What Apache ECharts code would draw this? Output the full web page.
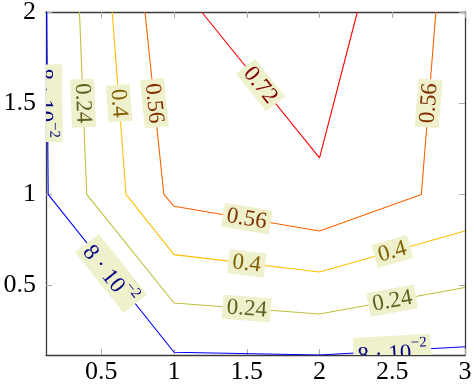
<!DOCTYPE html>
<html>
<head>
<meta charset="utf-8">
<script src="https://cdn.jsdelivr.net/npm/echarts@6/dist/echarts.min.js"></script>
<style>
  html, body { margin: 0; padding: 0; background: #fff; }
  #chart { width: 474px; height: 387px; }
</style>
</head>
<body>
<div id="chart"></div>
<script>
// contour levels and their iso-lines (data units)
const levels = [0.08, 0.24, 0.4, 0.56, 0.72];
const levelText = ['{b|8 · 10}{sup|−2}', '0.24', '0.4', '0.56', '0.72'];

const line008 = [[0.125, 2], [0.135, 1], [1, 0.135], [2, 0.12], [3, 0.165]];
const line024 = [[0.35, 2], [0.4, 1], [1, 0.405], [2, 0.345], [3, 0.49]];
const line040 = [[0.575, 2], [0.67, 1], [1, 0.67], [2, 0.575], [3, 0.8]];
const line056 = [[0.8, 2], [0.93, 1], [1, 0.935], [2, 0.8], [2.7, 1], [2.8, 2]];
const line072 = [[1.19, 2], [2, 1.2], [2.26, 2]];
const contourLines = [line008, line024, line040, line056, line072];

// which segment of each line carries a label
const labelSegments = [[0, 1, 3], [0, 2, 3], [0, 2, 3], [0, 2, 4], [0]];

const xMin = 0.12, xMax = 3, yMin = 0.12, yMax = 2;
const tickValues = [0.5, 1, 1.5, 2, 2.5, 3];
const yTickValues = [0.5, 1, 1.5, 2];

// pgfplots "hot" colormap samples, and the darker text colours
const lineColors = ['#0000ff', '#bfbf40', '#ffbf00', '#ff6000', '#ff0000'];
const textColors = ['#000080', '#606020', '#806000', '#803000', '#800000'];

const FONT = 'Liberation Serif';

const labelData = [];
labelSegments.forEach((segs, li) => {
  segs.forEach((s) => {
    const a = contourLines[li][s];
    const b = contourLines[li][s + 1];
    labelData.push([(a[0] + b[0]) / 2, (a[1] + b[1]) / 2, li, s]);
  });
});

const chart = echarts.init(document.getElementById('chart'));

const axisCommon = {
  type: 'value',
  axisLine: { show: true, onZero: false, lineStyle: { color: '#3a3a3a', width: 1.3 } },
  axisTick: { show: true, inside: true, length: 6, lineStyle: { color: '#aaa' } },
  axisLabel: { show: false },
  splitLine: { show: false },
};

const xAxisAt = (pos) => ({
  ...axisCommon,
  position: pos,
  min: xMin,
  max: xMax,
  axisTick: { ...axisCommon.axisTick, customValues: tickValues },
});
const yAxisAt = (pos) => ({
  ...axisCommon,
  position: pos,
  min: yMin,
  max: yMax,
  axisTick: { ...axisCommon.axisTick, customValues: yTickValues },
});

// tick labels drawn as text through the axes' scales (axisLabel kept falling back to sans)
const tickText = (text, x, y, align, vAlign) => ({
  type: 'text',
  x: x,
  y: y,
  style: {
    text: text,
    font: '26px "' + FONT + '"',
    fill: '#000',
    align: align,
    verticalAlign: vAlign,
  },
});

const option = {
  animation: false,
  textStyle: { fontFamily: FONT },
  grid: { left: 46, right: 9, top: 12, bottom: 32 },
  xAxis: [xAxisAt('bottom'), xAxisAt('top')],
  yAxis: [yAxisAt('left'), yAxisAt('right')],
  series: [
    ...contourLines.map((pts, i) => ({
      name: String(levels[i]),
      type: 'line',
      data: pts,
      showSymbol: false,
      silent: true,
      clip: true,
      lineStyle: { color: lineColors[i], width: 1.1 },
      z: 2,
    })),
    {
      type: 'custom',
      data: labelData,
      clip: true,
      silent: true,
      z: 5,
      encode: { x: 0, y: 1 },
      renderItem: (params, api) => {
        const li = api.value(2);
        const s = api.value(3);
        const pts = contourLines[li];
        const p = api.coord([api.value(0), api.value(1)]);
        const a = api.coord(pts[s]);
        const b = api.coord(pts[s + 1]);
        // keep the label along its segment, but upright
        let ang = Math.atan2(-(b[1] - a[1]), b[0] - a[0]);
        if (ang > Math.PI / 2) ang -= Math.PI;
        if (ang < -Math.PI / 2) ang += Math.PI;
        return {
          type: 'text',
          x: p[0],
          y: p[1],
          rotation: ang,
          style: {
            text: levelText[li],
            fill: textColors[li],
            font: '23px "' + FONT + '"',
            align: 'center',
            verticalAlign: 'middle',
            backgroundColor: '#eff0cc',
            padding: [1, 4, 0, 4],
            rich: {
              b: { fontSize: 23, fontFamily: FONT, fill: textColors[li], lineHeight: 26, verticalAlign: 'bottom' },
              sup: { fontSize: 15, fontFamily: FONT, fill: textColors[li], lineHeight: 29, verticalAlign: 'top' },
            },
          },
        };
      },
    },
    {
      type: 'custom',
      data: tickValues.map((v) => [v, yMin]),
      clip: false,
      silent: true,
      z: 6,
      encode: { x: 0, y: 1 },
      renderItem: (params, api) => {
        const p = api.coord([api.value(0), api.value(1)]);
        return tickText(String(api.value(0)), p[0], p[1] + 4, 'center', 'top');
      },
    },
    {
      type: 'custom',
      data: yTickValues.map((v) => [xMin, v]),
      clip: false,
      silent: true,
      z: 6,
      encode: { x: 0, y: 1 },
      renderItem: (params, api) => {
        const p = api.coord([api.value(0), api.value(1)]);
        return tickText(String(api.value(1)), p[0] - 10, p[1], 'right', 'middle');
      },
    },
  ],
};

chart.setOption(option);
</script>
</body>
</html>
